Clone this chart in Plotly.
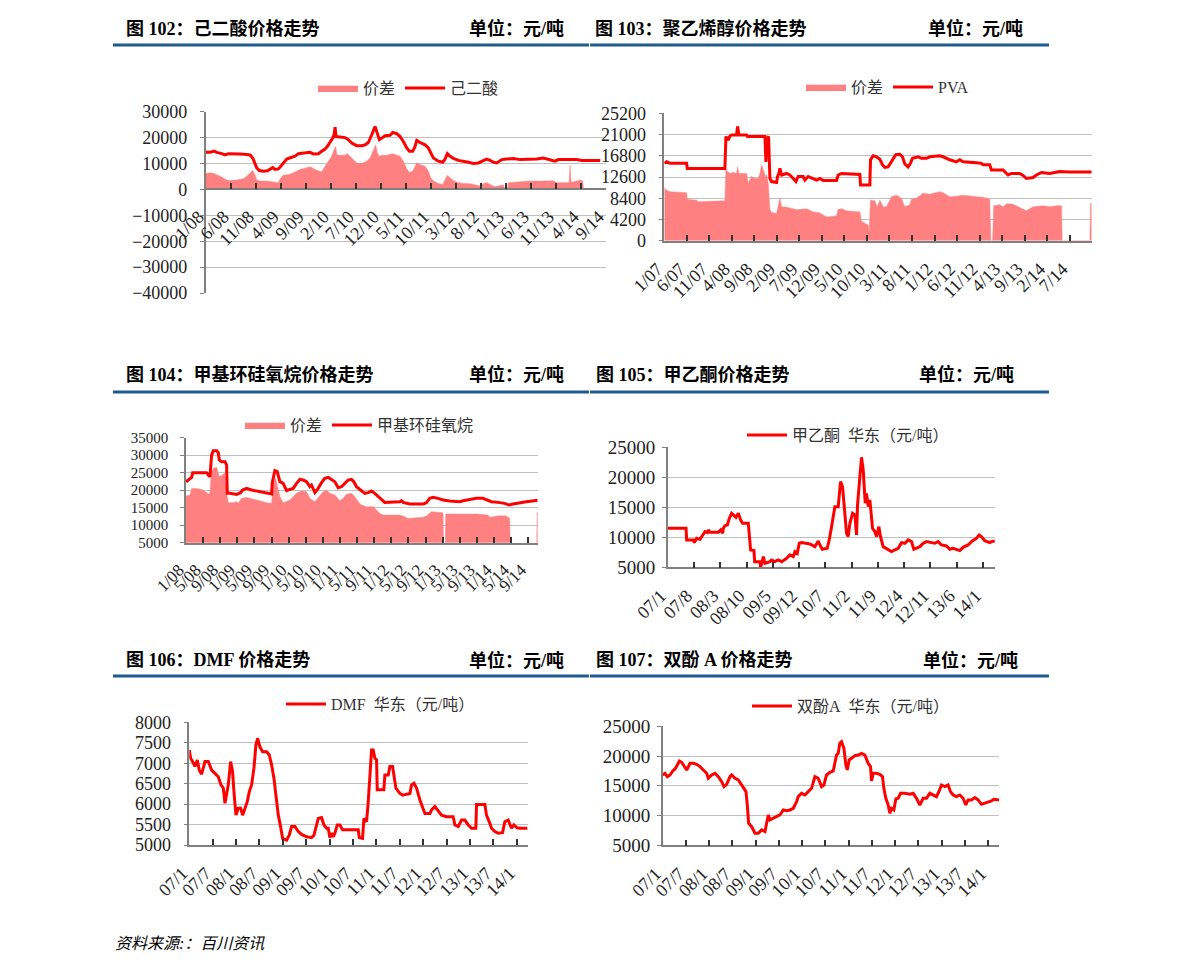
import plotly.graph_objects as go

W, H = 1191, 972
SERIF = "Liberation Serif, Noto Sans CJK SC, serif"
RED = "#FF0000"
PINK = "#FF8080"
BLUE = "#1F5B8C"
GRID = "#C0C0C0"
AXIS = "#808080"

# ---------------- data (x = months since January of the first year) ----------------
# 图102 己二酸 (start 2008-01)
P102_TICKS = ["1/08", "6/08", "11/08", "4/09", "9/09", "2/10", "7/10", "12/10", "5/11",
              "10/11", "3/12", "8/12", "1/13", "6/13", "11/13", "4/14", "9/14"]
P102_ADIPIC = [(0, 14300), (0.87, 14300), (1.67, 14800), (2.2, 14300), (3.2, 13800), (3.87, 13300),
               (4.53, 13800), (5.53, 13800), (6.87, 13700), (8.2, 13500), (8.87, 13300), (9.4, 12100),
               (9.87, 10000), (10.2, 8300), (10.73, 7300), (11.53, 7000), (12.33, 7200), (12.87, 7900),
               (13.4, 8400), (13.87, 7700), (14.53, 7900), (15, 8900), (15.53, 10000), (16.2, 11700),
               (17.2, 12400), (17.87, 12800), (18.53, 13800), (20.2, 14000), (20.87, 14300), (21.53, 13700),
               (22.53, 13800), (23.2, 14700), (23.87, 15600), (24.33, 16600), (24.87, 18100), (25.4, 19800),
               (25.67, 21100), (25.87, 24000), (26.07, 20400), (26.87, 20200), (27.87, 20000), (28.53, 19200),
               (29.2, 17900), (30.2, 16900), (31.2, 16900), (31.87, 17200), (32.53, 18100), (33.2, 21100),
               (33.87, 24300), (34.2, 22300), (34.73, 19200), (35.2, 19800), (35.87, 20700), (36.87, 20900),
               (37.4, 22000), (38.2, 21500), (38.87, 20400), (39.53, 18500), (40.2, 16000), (40.73, 14700),
               (41.4, 14700), (41.87, 16600), (42.2, 18900), (42.87, 18100), (43.87, 17200), (44.53, 16000),
               (45, 14000), (45.53, 12100), (46.53, 10900), (47.4, 10500), (47.87, 11700), (48.33, 13800),
               (48.87, 12800), (49.53, 12000), (50.53, 11200), (51.53, 10900), (52.53, 10500), (53.53, 10000),
               (54.53, 10200), (55.53, 11100), (56.2, 11700), (56.87, 11200), (57.53, 10500), (58.2, 10200),
               (59.2, 11500), (60.2, 11700), (61.53, 11900), (62.87, 11500), (64.87, 11500), (66.2, 11700),
               (67.53, 12100), (68.87, 11500), (69.87, 10900), (70.53, 11500), (71.53, 11500), (72.87, 11700),
               (74.2, 11500), (75.2, 11200), (76.87, 11200), (78.9, 11200)]
P102_SPREAD = [(0, 6100), (0.87, 6400), (1.67, 6100), (2.87, 5100), (4.2, 3600), (4.87, 3400), (6.2, 3600),
               (7.53, 4100), (8.2, 5100), (8.87, 6400), (9.4, 7300), (9.87, 5700), (10.2, 3600), (10.87, 3200),
               (12.2, 3200), (13.53, 2900), (14.53, 2600), (15, 4500), (15.53, 5500), (16.53, 5700),
               (17.53, 6400), (18.87, 7700), (19.87, 8300), (20.87, 8700), (22.2, 7400), (23.2, 6800),
               (23.87, 8900), (24.53, 10900), (25.2, 12800), (25.67, 15300), (26, 16600), (26.2, 13400),
               (26.87, 13200), (27.87, 13200), (28.33, 13800), (29.2, 12100), (30.2, 10200), (31.2, 10000),
               (32.2, 10900), (32.87, 12100), (33.53, 14700), (34, 17200), (34.33, 14000), (34.73, 12800),
               (35.2, 13200), (36.2, 13200), (37.4, 13800), (38.2, 13400), (38.87, 12800), (39.53, 10900),
               (40.2, 7900), (40.73, 6600), (41.4, 7000), (41.87, 8900), (42.2, 10200), (42.87, 9600),
               (43.87, 8900), (44.53, 7000), (45, 4500), (45.53, 3200), (46.53, 2300), (47.4, 1900),
               (47.87, 3800), (48.33, 5500), (48.87, 4500), (49.53, 3400), (50.53, 2600), (51.53, 2300),
               (52.87, 2200), (54.2, 1700), (54.87, 1300), (55.53, 2300), (56.2, 2600), (56.87, 1900),
               (57.87, 1000), (58.87, 1500), (59.53, 1700), (59.8, 0), (60.3, 0), (60.53, 2600), (61.53, 2800),
               (62.87, 2900), (64.87, 3200), (66.87, 3200), (68.2, 3200), (69.53, 3300), (70.2, 2600),
               (71.53, 2600), (72.67, 2600), (72.87, 9200), (73.07, 2800), (74.2, 3200), (74.87, 3600),
               (75.4, 3200), (75.53, 0)]

# 图103 聚乙烯醇 (start 2007-01)
P103_TICKS = ["1/07", "6/07", "11/07", "4/08", "9/08", "2/09", "7/09", "12/09", "5/10", "10/10",
              "3/11", "8/11", "1/12", "6/12", "11/12", "4/13", "9/13", "2/14", "7/14"]
P103_PVA = [(0, 15300), (0.52, 15600), (1.26, 15300), (4.96, 15300), (5.1, 14300), (13.46, 14300),
            (13.68, 20600), (14.2, 19900), (14.57, 20700), (14.94, 20900), (16.05, 20900), (16.27, 22600),
            (16.57, 20900), (18.27, 20900), (18.49, 20600), (22.34, 20600), (22.56, 15600), (22.86, 20300),
            (23.15, 20600), (23.3, 14000), (23.45, 12300), (23.82, 11700), (24.93, 11500), (25.15, 12700),
            (25.44, 13300), (25.67, 14300), (26.04, 13000), (27.14, 13300), (27.88, 13000), (28.62, 12300),
            (29.22, 11700), (29.73, 12700), (30.84, 12700), (31.21, 12000), (31.95, 12700), (33.06, 12300),
            (33.8, 12000), (34.54, 12300), (35.28, 11900), (38.24, 11900), (38.61, 13000), (39.35, 13300),
            (43.42, 13100), (43.57, 11000), (45.64, 11000), (45.79, 16000), (46.38, 16800), (47.12, 16600),
            (47.86, 16100), (48.45, 15000), (48.96, 14500), (49.7, 14600), (50.44, 15600), (51.41, 17000),
            (52.29, 17100), (52.88, 16600), (53.4, 15200), (54.14, 14600), (54.66, 15300), (55.1, 16300),
            (56.36, 16600), (57.1, 16300), (58.21, 16300), (58.95, 16600), (61.17, 16800), (61.91, 16600),
            (63.39, 16000), (64.87, 15600), (65.61, 16000), (66.35, 15600), (69.3, 15400), (70.41, 15300),
            (70.78, 15000), (72.26, 15000), (72.63, 14000), (75.22, 14000), (76.33, 13000), (77.07, 13300),
            (78.92, 13300), (79.66, 12900), (80.4, 12300), (81.88, 12500), (82.62, 13000), (83.73, 13500),
            (85.58, 13300), (87.06, 13500), (87.8, 13700), (90, 13600), (94.9, 13600)]
P103_SPREAD = [(0, 10400), (0.52, 10000), (1.26, 9700), (4.96, 9500), (5.1, 8200), (7.17, 8000), (7.54, 7700),
               (13.09, 7900), (13.46, 7900), (13.68, 14000), (13.98, 13700), (14.57, 13300), (15.31, 13500),
               (16.05, 13300), (16.27, 14600), (16.57, 13300), (18.27, 13300), (18.64, 11300), (19.38, 12700),
               (20.12, 12300), (20.86, 12300), (21.23, 13300), (21.6, 15000), (21.97, 14000), (22.49, 12700),
               (22.71, 13000), (23.08, 11300), (23.45, 6100), (23.82, 5600), (24.93, 5400), (25.3, 6700),
               (25.67, 8400), (26.04, 6700), (27.14, 6600), (28.62, 6300), (29.36, 6100), (31.58, 6300),
               (33.06, 5700), (34.54, 5500), (36.02, 4700), (38.24, 4900), (38.61, 6200), (39.35, 6300),
               (40.46, 5900), (43.42, 5700), (43.79, 3800), (45.27, 3100), (45.49, 1800), (45.79, 8000),
               (46.75, 7900), (47.27, 6600), (47.86, 8000), (48.6, 6700), (49.33, 6700), (50.44, 8700),
               (51.55, 9000), (52.66, 8400), (53.4, 6700), (54.51, 7100), (54.88, 8200), (55.99, 8400),
               (57.47, 9400), (58.95, 9200), (61.17, 9700), (61.91, 9500), (63.39, 8700), (64.87, 8800),
               (66.35, 9000), (69.3, 8700), (70.78, 8600), (72.26, 8200), (72.5, 0), (72.9, 0), (73.15, 6900),
               (74.48, 7100), (75.22, 6700), (75.96, 7300), (77.44, 7200), (78.55, 6700), (79.66, 6200),
               (80.4, 5900), (81.88, 6700), (84.1, 6900), (85.58, 6700), (87.06, 6900), (88.2, 6900),
               (88.35, 0), (94.5, 0), (94.65, 7400), (94.9, 7400)]

# 图104 甲基环硅氧烷 (start 2008-01)
P104_TICKS = ["1/08", "5/08", "9/08", "1/09", "5/09", "9/09", "1/10", "5/10", "9/10", "1/11", "5/11",
              "9/11", "1/12", "5/12", "9/12", "1/13", "5/13", "9/13", "1/14", "5/14", "9/14"]
P104_DMC = [(0, 22430), (0.54, 22900), (1.32, 23670), (1.56, 25000), (4.82, 25000), (5.21, 24330),
            (5.6, 23860), (5.99, 30050), (6.38, 31290), (7.16, 31290), (7.55, 30710), (7.78, 28620),
            (8.33, 28140), (9.11, 28140), (9.49, 27190), (9.65, 19100), (10.27, 19100), (11.83, 18810),
            (12.76, 19290), (13.23, 20050), (14.16, 20520), (15.33, 20050), (16.5, 19760), (17.67, 19380),
            (19.22, 18900), (20, 18900), (20.16, 22140), (20.78, 25570), (21.32, 25290), (21.95, 22430),
            (22.72, 21950), (23.11, 21000), (23.5, 19860), (24.28, 20240), (25.06, 20520), (25.84, 21950),
            (26.61, 23100), (27.39, 22900), (28.17, 22430), (28.95, 21000), (29.34, 21480), (30.12, 19290),
            (30.89, 20520), (31.67, 22140), (32.45, 23380), (33.23, 23670), (34.01, 23100), (34.79, 22430),
            (35.56, 20710), (36.34, 21000), (37.12, 21950), (37.9, 22900), (38.68, 23100), (39.22, 22430),
            (39.84, 21000), (41.01, 19860), (41.79, 19100), (42.57, 19290), (43.35, 19760), (44.12, 19100),
            (44.9, 18140), (45.68, 17190), (46.46, 16520), (49.96, 16710), (50.35, 17000), (50.74, 16520),
            (52.3, 16050), (55.41, 16050), (56.19, 16430), (56.96, 17670), (57.74, 17950), (58.91, 17670),
            (60.08, 17190), (61.63, 16900), (63.97, 16710), (64.75, 17000), (66.3, 17380), (67.86, 17670),
            (69.42, 17670), (70.58, 17190), (71.36, 16710), (72.92, 16520), (74.47, 16240), (75.49, 15760),
            (76.42, 16050), (79.53, 16710), (82.2, 17100)]
P104_SPREAD = [(0, 18330), (0.93, 18620), (1.32, 20520), (2.49, 20520), (4.05, 20050), (4.82, 19100),
               (5.21, 18900), (5.6, 19100), (5.84, 24330), (6.38, 26240), (7.16, 26520), (7.78, 23860),
               (8.33, 24330), (9.11, 24810), (9.49, 19100), (9.88, 16430), (11.05, 16430), (11.83, 16710),
               (12.22, 16240), (13, 17670), (14.16, 17950), (15.72, 17380), (17.28, 17000), (18.83, 16430),
               (20, 16240), (20.39, 21950), (20.93, 23380), (21.32, 21000), (21.95, 18140), (22.72, 16430),
               (23.5, 16710), (24.28, 17190), (25.84, 19100), (27, 19760), (28.17, 19570), (28.95, 17670),
               (30.12, 16710), (30.89, 17950), (32.06, 19570), (32.84, 20050), (33.62, 19100), (34.79, 18620),
               (35.95, 17000), (36.73, 17670), (37.51, 18810), (38.68, 19100), (39.46, 18140), (40.23, 16710),
               (41.01, 15760), (42.18, 15290), (43.74, 15290), (44.51, 14330), (45.29, 13380), (46.07, 12900),
               (49.96, 12900), (50.74, 12620), (51.91, 11950), (55.41, 12240), (56.19, 12620), (57.35, 13860),
               (58.52, 13670), (60.08, 13570), (60.2, 0), (60.55, 0), (60.7, 13190), (63.97, 13190),
               (65.53, 13380), (67.08, 13190), (67.86, 13190), (70.58, 12900), (70.97, 12240), (71.75, 12430),
               (73.31, 12710), (74.86, 12620), (75.64, 11950), (75.9, 0), (81.95, 0), (82.05, 13570),
               (82.2, 13570)]

# 图105 甲乙酮 (start 2007-01)
P105_TICKS = ["07/1", "07/8", "08/3", "08/10", "09/5", "09/12", "10/7", "11/2", "11/9", "12/4",
              "12/11", "13/6", "14/1"]
P105_MEK = [(0, 11500), (4.88, 11500), (5.06, 9560), (6.83, 9560), (7.1, 9110), (7.72, 9830), (8.61, 9670),
            (9.49, 10390), (9.94, 10940), (10.56, 10780), (10.83, 11220), (11.27, 10830), (13.49, 10830),
            (14.11, 11220), (14.64, 10670), (14.82, 11500), (15.26, 11940), (15.88, 12060), (16.42, 13170),
            (17.04, 14000), (17.66, 13720), (18.19, 13330), (18.81, 14000), (19.43, 12890), (19.96, 12330),
            (21.47, 12330), (21.74, 10390), (22.09, 7890), (22.98, 7780), (23.16, 5940), (24.58, 5940),
            (24.76, 5000), (25.02, 5560), (25.47, 6780), (25.91, 5670), (27.24, 5940), (27.68, 6220),
            (28.57, 5940), (29.46, 6220), (30.35, 5940), (31.68, 6500), (32.56, 7060), (33.45, 6780),
            (33.9, 7610), (34.52, 7330), (35.05, 9000), (35.67, 9110), (37.89, 8890), (39.22, 8440),
            (40.11, 9390), (40.55, 8720), (41.17, 8000), (42.5, 8170), (43.03, 9560), (43.66, 11780),
            (44.54, 15110), (45.43, 15110), (46.05, 19280), (46.58, 18450), (47.21, 14560), (47.65, 10670),
            (48.09, 10110), (48.54, 12330), (49.25, 14000), (49.87, 13720), (50.31, 10390), (50.58, 15390),
            (51.2, 20110), (51.64, 23330), (52.09, 21220), (52.62, 15670), (52.97, 17330), (53.42, 15110),
            (53.86, 16220), (54.57, 11500), (55.19, 10940), (55.64, 10110), (56.26, 11780), (56.7, 10110),
            (57.41, 8440), (58.74, 8000), (59.63, 7610), (60.51, 7890), (61.4, 8170), (62.29, 9110),
            (63.18, 9000), (64.06, 9560), (64.95, 9280), (65.57, 8000), (67.17, 8440), (68.06, 9000),
            (68.94, 9280), (70.28, 9110), (71.16, 9000), (72.05, 9280), (72.94, 8720), (74.27, 8560),
            (75.16, 8000), (76.04, 8170), (76.93, 8000), (77.82, 7780), (78.7, 8330), (80.04, 8720),
            (80.92, 9280), (82.25, 9830), (82.96, 10390), (83.58, 10110), (84.47, 9440), (85.8, 9110),
            (86.25, 9280), (87.13, 9390)]

# 图106 DMF (start 2007-01)
P106_TICKS = ["07/1", "07/7", "08/1", "08/7", "09/1", "09/7", "10/1", "10/7", "11/1", "11/7", "12/1",
              "12/7", "13/1", "13/7", "14/1"]
P106_DMF = [(0, 7320), (0.34, 7120), (0.85, 7040), (1.45, 6920), (2.05, 7080), (2.56, 6830), (3.16, 6730),
            (3.59, 6920), (4.02, 7040), (4.87, 7040), (5.3, 6920), (5.73, 6830), (6.58, 6750), (7.44, 6670),
            (8.12, 6470), (8.72, 6390), (9.15, 6020), (9.57, 6220), (10, 6470), (10.6, 7040), (11.11, 6790),
            (11.45, 6300), (11.97, 5730), (12.56, 5900), (13.16, 5900), (13.68, 5730), (14.27, 5900),
            (14.87, 6060), (15.38, 6300), (15.98, 6470), (16.58, 6880), (17.09, 7450), (17.52, 7610),
            (18.12, 7400), (18.8, 7280), (19.83, 7280), (20.51, 7200), (21.11, 6960), (21.71, 6630),
            (22.22, 6140), (22.82, 5730), (23.42, 5450), (23.93, 5160), (24.96, 5120), (25.64, 5240),
            (26.24, 5450), (27.09, 5450), (27.95, 5330), (28.8, 5260), (30.09, 5200), (31.37, 5180),
            (31.97, 5240), (32.65, 5530), (33.08, 5650), (33.93, 5670), (34.53, 5490), (35.21, 5410),
            (35.64, 5410), (36.07, 5180), (36.5, 5290), (36.92, 5200), (37.35, 5290), (37.95, 5490),
            (38.63, 5490), (39.32, 5370), (39.91, 5370), (43.33, 5370), (43.59, 5180), (44.44, 5160),
            (44.79, 5650), (45.47, 5570), (45.9, 6060), (46.32, 6790), (46.75, 7320), (47.18, 7320),
            (47.61, 7120), (48.03, 7080), (48.21, 6350), (49.91, 6350), (50.17, 6710), (51.03, 6710),
            (51.45, 6920), (52.14, 6920), (52.56, 6630), (52.99, 6390), (54.02, 6260), (54.7, 6220),
            (56.58, 6260), (57.01, 6470), (57.61, 6510), (58.29, 6390), (59.15, 6100), (60, 5900),
            (60.43, 5770), (61.71, 5770), (62.14, 5860), (62.99, 5940), (63.85, 5820), (64.7, 5730),
            (65.98, 5690), (67.69, 5690), (68.12, 5490), (68.97, 5450), (69.83, 5610), (70.68, 5610),
            (71.54, 5490), (72.39, 5410), (73.5, 5410), (73.68, 5990), (75.81, 5990), (76.24, 5730),
            (77.09, 5530), (77.52, 5410), (78.38, 5330), (79.23, 5290), (80.34, 5300), (80.94, 5570),
            (81.79, 5610), (82.22, 5490), (82.65, 5410), (83.25, 5490), (84.1, 5420), (84.79, 5410),
            (86.75, 5410)]

# 图107 双酚A (start 2007-01)
P107_TICKS = P106_TICKS
P107_BPA = [(0, 16820), (0.6, 17100), (1.2, 16540), (1.89, 16820), (2.58, 17490), (3.18, 17830), (3.78, 18500),
            (4.3, 19170), (4.9, 18950), (5.76, 18220), (6.19, 17660), (7.05, 18780), (7.91, 18780),
            (8.77, 18610), (9.63, 18220), (10.49, 17660), (11.35, 17100), (11.78, 16260), (12.64, 16820),
            (13.5, 17100), (14.36, 16540), (15.22, 15700), (15.82, 14860), (16.51, 15250), (17.37, 16540),
            (17.8, 16820), (18.66, 16260), (19.52, 15980), (20.38, 15140), (20.81, 14860), (21.5, 14020),
            (21.84, 11780), (22.18, 8700), (22.96, 8140), (23.82, 7020), (24.68, 7020), (25.54, 7580),
            (26.4, 7300), (27.26, 10100), (27.69, 9260), (28.55, 9540), (30.27, 10100), (31.13, 10940),
            (31.99, 10830), (32.85, 10940), (33.71, 11220), (34.57, 12340), (35, 13180), (35.86, 13740),
            (36.72, 13460), (37.58, 14020), (38.44, 14580), (38.87, 15590), (39.3, 16540), (40.15, 16260),
            (41.01, 14860), (41.62, 15140), (42.3, 16820), (43.16, 17270), (44.02, 17490), (44.88, 20180),
            (45.31, 20460), (45.74, 22140), (46.17, 22420), (46.78, 21300), (47.29, 18500), (47.64, 17660),
            (48.15, 19340), (48.75, 19620), (49.61, 20070), (50.47, 20180), (51.33, 20460), (52.19, 20180),
            (53.05, 18780), (53.65, 18220), (53.91, 15810), (54.34, 17100), (55.2, 17100), (56.06, 16930),
            (56.75, 16540), (57.09, 14580), (57.61, 12900), (58.21, 11780), (58.64, 10380), (59.07, 11220),
            (59.67, 10940), (60.19, 12790), (60.79, 12900), (61.39, 13740), (62.51, 13740), (63.8, 13570),
            (64.66, 13740), (65.52, 12900), (66.38, 11780), (67.24, 12900), (68.1, 12900), (68.96, 13740),
            (69.82, 13460), (70.68, 13180), (71.37, 14130), (71.97, 15140), (72.83, 14860), (73.69, 15140),
            (74.29, 14020), (74.98, 13460), (75.84, 13180), (76.7, 13460), (77.56, 12900), (78.25, 11780),
            (78.85, 12620), (79.71, 12620), (80.57, 13010), (81.43, 12620), (82.29, 11890), (83.15, 12060),
            (84.01, 12340), (84.87, 12450), (85.47, 12730), (86.16, 12620), (86.84, 12620)]


# ---------------- helpers ----------------
def px(x):
    return x / W


def py(y):
    return 1 - y / H


def month_index(label, order, y0):
    a, b = label.split("/")
    if order == "m/y":
        m, y = int(a), int(b)
    else:
        y, m = int(a), int(b)
    return (2000 + y - y0) * 12 + (m - 1)


def xs(pairs):
    return [p[0] for p in pairs]


def ys(pairs):
    return [p[1] for p in pairs]


fig = go.Figure()

# panel layout: (suffix, x-domain px, y-domain px (top, bottom), x-range end, y-range, dtick,
#                tick labels, label order, start year, ytick font size, y standoff, xtick font size)
panels = [
    ("", (205.7, 606.0), (111.7, 293.0), 80.05, (-40000, 30000), 10000, P102_TICKS, "m/y", 2008, 18, 9, 18),
    ("2", (664.3, 1091.7), (113.3, 240.7), 94.9, (0, 25200), 4200, P103_TICKS, "m/y", 2007, 18, 9, 18),
    ("3", (186.0, 537.7), (437.7, 542.7), 82.2, (5000, 35000), 5000, P104_TICKS, "m/y", 2008, 15, 9, 17),
    ("4", (667.7, 995.0), (447.3, 567.3), 87.2, (5000, 25000), 5000, P105_TICKS, "y/m", 2007, 19, 3, 18),
    ("5", (189.3, 527.7), (722.3, 845.0), 86.8, (5000, 8000), 500, P106_TICKS, "y/m", 2007, 18, 9, 18),
    ("6", (662.7, 999.3), (726.3, 845.3), 86.9, (5000, 25000), 5000, P107_TICKS, "y/m", 2007, 19, 3, 18),
]

layout_axes = {}
for suf, (x0, x1), (yt, yb), xmax, (ymin, ymax), dt, ticks, order, y0, yfs, ystand, xfs in panels:
    ydom = [py(yb), py(yt)]
    xa = dict(
        domain=[px(x0), px(x1)], range=[0, xmax], anchor="y" + suf, automargin=False,
        tickmode="array", tickvals=[month_index(t, order, y0) for t in ticks], ticktext=ticks,
        tickangle=-45, ticks="inside", ticklen=6, tickwidth=1.5, tickcolor="#333333",
        ticklabelstandoff=9, ticklabelshift=-7,
        showline=True, linecolor=AXIS, linewidth=1.5, showgrid=False, zeroline=False,
        tickfont=dict(family=SERIF, size=xfs, color="#222222"), fixedrange=True,
    )
    if suf == "":
        # category axis crosses the value axis at zero
        xa["anchor"] = "free"
        xa["position"] = ydom[0] + (0 - ymin) / (ymax - ymin) * (ydom[1] - ydom[0])
    layout_axes["xaxis" + suf] = xa
    layout_axes["yaxis" + suf] = dict(
        domain=ydom, range=[ymin, ymax], anchor="x" + suf, tick0=ymin, dtick=dt, automargin=False,
        tickformat="d", showline=True, linecolor=AXIS, linewidth=1.5,
        ticks="outside", ticklen=4, tickcolor=AXIS, ticklabelstandoff=ystand,
        showgrid=True, gridcolor=GRID, gridwidth=1, zeroline=False,
        tickfont=dict(family=SERIF, size=yfs, color="#222222"), fixedrange=True,
    )


def area(pairs, suf, leg):
    fig.add_trace(go.Scatter(
        x=xs(pairs), y=ys(pairs), mode="lines", fill="tozeroy", fillcolor=PINK,
        line=dict(color=PINK, width=0.5), name="价差",
        xaxis="x" + suf, yaxis="y" + suf, legend=leg, hoverinfo="skip"))


def line(pairs, suf, leg, name):
    fig.add_trace(go.Scatter(
        x=xs(pairs), y=ys(pairs), mode="lines", line=dict(color=RED, width=3),
        name=name, xaxis="x" + suf, yaxis="y" + suf, legend=leg))


NB = "\u00a0"
area(P102_SPREAD, "", "legend")
line(P102_ADIPIC, "", "legend", "己二酸")
area(P103_SPREAD, "2", "legend2")
line(P103_PVA, "2", "legend2", "PVA")
area(P104_SPREAD, "3", "legend3")
line(P104_DMC, "3", "legend3", "甲基环硅氧烷")
line(P105_MEK, "4", "legend4", "甲乙酮" + NB + " 华东（元/吨）")
line(P106_DMF, "5", "legend5", "DMF" + NB + " 华东（元/吨）")
line(P107_BPA, "6", "legend6", "双酚A" + NB + " 华东（元/吨）")

legend_pos = {"legend": (313, 88), "legend2": (801, 87), "legend3": (240, 425),
              "legend4": (742, 435), "legend5": (281, 704), "legend6": (747, 706)}
legends = {}
for k, (lx, ly) in legend_pos.items():
    legends[k] = dict(x=px(lx), y=py(ly), xanchor="left", yanchor="middle", orientation="h",
                      bgcolor="rgba(0,0,0,0)", borderwidth=0, traceorder="normal", itemwidth=40,
                      font=dict(family=SERIF, size=16, color="#333333"))

# section headers
headers = [
    ("图 102：己二酸价格走势", 124, 566, 29, 113, 589, 45),
    ("图 103：聚乙烯醇价格走势", 593, 1025, 29, 590, 1049, 45),
    ("图 104：甲基环硅氧烷价格走势", 124, 566, 375, 113, 589, 392),
    ("图 105：甲乙酮价格走势", 594, 1016, 375, 590, 1049, 392),
    ("图 106：DMF 价格走势", 124, 566, 660, 113, 589, 676),
    ("图 107：双酚 A 价格走势", 594, 1020, 660, 590, 1049, 676),
]
annotations = []
shapes = []
for title, tx, ux, ty, lx0, lx1, ly in headers:
    annotations.append(dict(text="<b>" + title + "</b>", x=px(tx), y=py(ty), xref="paper", yref="paper",
                            xanchor="left", yanchor="middle", showarrow=False,
                            font=dict(family=SERIF, size=18, color="#000000")))
    annotations.append(dict(text="<b>单位：元/吨</b>", x=px(ux), y=py(ty), xref="paper", yref="paper",
                            xanchor="right", yanchor="middle", showarrow=False,
                            font=dict(family=SERIF, size=18, color="#000000")))
    shapes.append(dict(type="line", xref="paper", yref="paper", x0=px(lx0), x1=px(lx1),
                       y0=py(ly), y1=py(ly), line=dict(color=BLUE, width=3)))

annotations.append(dict(text="<i>资料来源:：百川资讯</i>", x=px(113), y=py(943), xref="paper", yref="paper",
                        xanchor="left", yanchor="middle", showarrow=False,
                        font=dict(family=SERIF, size=16, color="#000000")))

fig.update_layout(
    width=W, height=H, margin=dict(l=0, r=0, t=0, b=0, pad=0, autoexpand=False),
    paper_bgcolor="white", plot_bgcolor="white", showlegend=True,
    annotations=annotations, shapes=shapes, **layout_axes, **legends,
)

fig.write_html("out.html")
